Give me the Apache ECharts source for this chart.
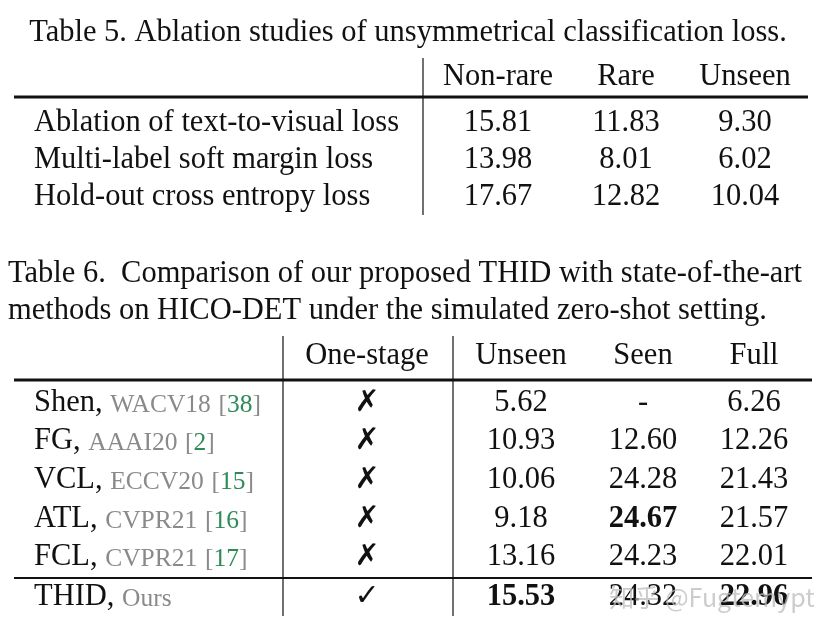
<!DOCTYPE html>
<html><head><meta charset="utf-8">
<script src="https://cdn.jsdelivr.net/npm/echarts@6/dist/echarts.min.js"></script>
<style>html,body{margin:0;background:#fff}#main{width:828px;height:630px}</style>
</head><body><div id="main"></div>
<script>
// Table 5 data
var t5Cols = ['Non-rare', 'Rare', 'Unseen'];
var t5Rows = ['Ablation of text-to-visual loss', 'Multi-label soft margin loss', 'Hold-out cross entropy loss'];
var t5NonRare = ['15.81', '13.98', '17.67'];
var t5Rare = ['11.83', '8.01', '12.82'];
var t5Unseen = ['9.30', '6.02', '10.04'];
// Table 6 data
var t6Cols = ['One-stage', 'Unseen', 'Seen', 'Full'];
var t6Methods = ['Shen', 'FG', 'VCL', 'ATL', 'FCL', 'THID'];
var t6Venues = ['WACV18', 'AAAI20', 'ECCV20', 'CVPR21', 'CVPR21', 'Ours'];
var t6Cites = ['38', '2', '15', '16', '17', ''];
var t6OneStage = ['✗', '✗', '✗', '✗', '✗', '✓'];
var t6Unseen = ['5.62', '10.93', '10.06', '9.18', '13.16', '15.53'];
var t6Seen = ['-', '12.60', '24.28', '24.67', '24.23', '24.32'];
var t6Full = ['6.26', '12.26', '21.43', '21.57', '22.01', '22.96'];
var t6Bold = {'3-seen': 1, '5-unseen': 1, '5-full': 1};

var FONT = '"Liberation Serif", "DejaVu Serif", serif';
var els = [];
function txt(x, y, s, opt) {
    opt = opt || {};
    els.push({type: 'text', x: x, y: y + 3, style: {
        text: s, font: (opt.bold ? 'bold ' : '') + (opt.size || 30.5) + 'px ' + (opt.font || FONT),
        fill: opt.color || '#111', align: opt.align || 'center', verticalAlign: 'middle', rich: opt.rich, opacity: opt.opacity
    }, z: opt.z || 1});
}
function line(x1, y1, x2, y2, w) {
    els.push({type: 'line', shape: {x1: x1, y1: y1, x2: x2, y2: y2}, style: {stroke: '#111', lineWidth: w}});
}

// Table 5
txt(408, 30, 'Table 5. Ablation studies of unsymmetrical classification loss.', {size: 30.5});
var c5 = [498, 626, 745];
t5Cols.forEach(function (c, i) { txt(c5[i], 74, c); });
line(423, 58, 423, 215, 1.2);
line(14, 97, 808, 97, 3);
var y5 = [120, 157, 194];
t5Rows.forEach(function (r, i) {
    txt(34, y5[i], r, {align: 'left'});
    txt(c5[0], y5[i], t5NonRare[i]);
    txt(c5[1], y5[i], t5Rare[i]);
    txt(c5[2], y5[i], t5Unseen[i]);
});

// Table 6
txt(8, 271, 'Table 6.  Comparison of our proposed THID with state-of-the-art', {size: 30.5, align: 'left'});
txt(8, 308, 'methods on HICO-DET under the simulated zero-shot setting.', {size: 30.5, align: 'left'});
var c6 = [367, 521, 643, 754];
t6Cols.forEach(function (c, i) { txt(c6[i], 353, c); });
line(283, 336, 283, 616, 1.2);
line(453, 336, 453, 616, 1.2);
line(14, 380, 812, 380, 3);
line(14, 578, 812, 578, 2);
var y6 = [400, 438, 477, 516, 554, 594];
t6Methods.forEach(function (m, i) {
    var s = '{m|' + m + ',} {v|' + t6Venues[i] + '}' + (t6Cites[i] ? ' {b|[}{g|' + t6Cites[i] + '}{b|]}' : '');
    txt(34, y6[i], s, {align: 'left', rich: {
        m: {font: '30.5px ' + FONT, fill: '#111'},
        v: {font: '25.5px ' + FONT, fill: '#8a8a8a', padding: [4, 0, 0, 0]},
        b: {font: '25.5px ' + FONT, fill: '#8a8a8a', padding: [4, 0, 0, 0]},
        g: {font: '25.5px ' + FONT, fill: '#2e8b57', padding: [4, 0, 0, 0]}
    }});
    txt(c6[0], y6[i], t6OneStage[i], {size: 30, font: '"DejaVu Sans", sans-serif', bold: true});
    txt(c6[1], y6[i], t6Unseen[i], {bold: t6Bold[i + '-unseen']});
    txt(c6[2], y6[i], t6Seen[i], {bold: t6Bold[i + '-seen']});
    txt(c6[3], y6[i], t6Full[i], {bold: t6Bold[i + '-full']});
});
// watermark
txt(712, 594, '知乎 @Fugtemypt', {size: 25, font: '"Noto Sans CJK SC", sans-serif', color: '#bbb', opacity: 0.75, z: 5});

var myChart = echarts.init(document.getElementById('main'));
myChart.setOption({animation: false, graphic: {elements: els}});
</script></body></html>
